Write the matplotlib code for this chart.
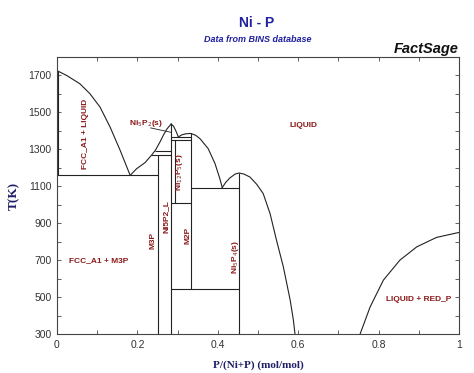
import matplotlib
matplotlib.use("Agg")
import matplotlib.pyplot as plt
from matplotlib.ticker import MultipleLocator, FixedLocator

# ---- data ----
liq_ni_x = [0.0, 0.003, 0.024, 0.057, 0.082, 0.107, 0.132, 0.157, 0.182]
liq_ni_T = [1727, 1723, 1700, 1655, 1601, 1529, 1421, 1295, 1159]

liq_ni5p2_left_x = [0.182, 0.198, 0.219, 0.235, 0.245, 0.255, 0.265, 0.274, 0.284]
liq_ni5p2_left_T = [1159, 1195, 1228, 1268, 1296, 1335, 1378, 1412, 1437]

liq_ni5p2_right_x = [0.284, 0.290, 0.296, 0.302]
liq_ni5p2_right_T = [1437, 1425, 1398, 1367]

liq_m2p_x = [0.302, 0.310, 0.320, 0.333, 0.345, 0.356, 0.376, 0.393, 0.405, 0.411]
liq_m2p_T = [1367, 1378, 1384, 1386, 1376, 1357, 1304, 1223, 1142, 1093]

liq_ni5p4_x = [0.411, 0.420, 0.430, 0.443, 0.453, 0.465, 0.480, 0.497, 0.513, 0.530,
               0.546, 0.563, 0.580, 0.588, 0.592]
liq_ni5p4_T = [1093, 1122, 1145, 1166, 1172, 1166, 1150, 1110, 1060, 952,
               808, 664, 484, 376, 300]

liq_redp_x = [0.754, 0.779, 0.812, 0.853, 0.895, 0.944, 1.0]
liq_redp_T = [300, 447, 592, 700, 772, 823, 850]

# invariant (horizontal) lines: x start, x end, temperature
inv_x1 = [0.0, 0.235, 0.245, 0.284, 0.284, 0.284, 0.3325, 0.284]
inv_x2 = [0.25, 0.284, 0.284, 0.3325, 0.3325, 0.3325, 0.453, 0.453]
inv_T = [1159, 1271, 1291, 1349, 1367, 1012, 1093, 545]

# compound (vertical) lines: composition, T low, T high
cmp_x = [0.003, 0.25, 0.284, 0.294, 0.3325, 0.453]
cmp_T1 = [1159, 300, 300, 1012, 545, 300]
cmp_T2 = [1723, 1271, 1437, 1349, 1386, 1172]

# phase labels: text, x, T, rotation
lab_text = ["FCC_A1 + LIQUID", "LIQUID", "FCC_A1 + M3P", "LIQUID + RED_P",
            "M3P", "NI5P2_L", "M2P", r"Ni$_{12}$P$_5$(s)", r"Ni$_5$P$_4$(s)"]
lab_x = [0.072, 0.613, 0.103, 0.899, 0.2396, 0.271, 0.325, 0.304, 0.443]
lab_T = [1385, 1430, 700, 489, 808, 934, 835, 1177, 718]
lab_rot = [90, 0, 0, 0, 90, 90, 90, 90, 90]

xticks_major = [0, 0.2, 0.4, 0.6, 0.8, 1]
yticks_major = [300, 500, 700, 900, 1100, 1300, 1500, 1700]

# ---- figure ----
W, H = 474, 373
fig = plt.figure(figsize=(W / 100, H / 100), dpi=100)
ax = fig.add_axes([57 / W, 1 - 334 / H, (459 - 57) / W, (334 - 57) / H])
ax.set_xlim(0, 1)
ax.set_ylim(300, 1800)

lc = "#222222"
lw = 0.8
for xs, ts in [(liq_ni_x, liq_ni_T), (liq_ni5p2_left_x, liq_ni5p2_left_T),
               (liq_ni5p2_right_x, liq_ni5p2_right_T), (liq_m2p_x, liq_m2p_T),
               (liq_ni5p4_x, liq_ni5p4_T), (liq_redp_x, liq_redp_T)]:
    ax.plot(xs, ts, color=lc, lw=lw)
ax.hlines(inv_T, inv_x1, inv_x2, color=lc, lw=lw)
ax.vlines(cmp_x, cmp_T1, cmp_T2, color=lc, lw=lw)

lab_color = "#8b1a1a"
for t, x, T, r in zip(lab_text, lab_x, lab_T, lab_rot):
    ax.text(x, T, t, rotation=r, ha="center", va="center", color=lab_color,
            fontsize=6, fontweight="bold", family="Liberation Sans")

# Ni5P2(s) label with leader line
ax.text(0.221, 1442, r"Ni$_5$P$_2$(s)", ha="center", va="center", color=lab_color,
        fontsize=6, fontweight="bold", family="Liberation Sans")
ax.plot([0.233, 0.284], [1416, 1392], color=lc, lw=0.6)

# ticks
ax.xaxis.set_major_locator(FixedLocator(xticks_major))
ax.xaxis.set_minor_locator(MultipleLocator(0.1))
ax.yaxis.set_major_locator(FixedLocator(yticks_major))
ax.yaxis.set_minor_locator(MultipleLocator(100))
ax.set_xticklabels(["0", "0.2", "0.4", "0.6", "0.8", "1"])
ax.tick_params(which="both", direction="in", top=True, right=True,
               length=3, width=0.6, color="#444444")
ax.tick_params(labelsize=7.5, colors="#444444", pad=4)
for lab in ax.get_xticklabels() + ax.get_yticklabels():
    lab.set_family("Liberation Sans")
    lab.set_color("#333333")
for s in ax.spines.values():
    s.set_linewidth(0.8)
    s.set_color("#444444")

ax.set_xlabel("P/(Ni+P) (mol/mol)", family="Liberation Serif", fontweight="bold",
              fontsize=8, color="#1f1f66", labelpad=8)
ax.set_ylabel("T(K)", family="Liberation Serif", fontweight="bold",
              fontsize=9.5, color="#1f1f66", labelpad=6)

fig.text(256.7 / W, 1 - 22.7 / H, "Ni - P", ha="center", va="center",
         fontsize=10, fontweight="bold", color="#2020a0", family="Liberation Sans")
fig.text(257.5 / W, 1 - 39.3 / H, "Data from BINS database", ha="center", va="center",
         fontsize=6.5, fontweight="bold", style="italic", color="#2020a0",
         family="Liberation Sans")
fig.text(459 / W, 1 - 49.3 / H, "FactSage", ha="right", va="center",
         fontsize=10.5, fontweight="bold", style="italic", color="#111111",
         family="Liberation Sans")

fig.savefig("out.png", dpi=100)
